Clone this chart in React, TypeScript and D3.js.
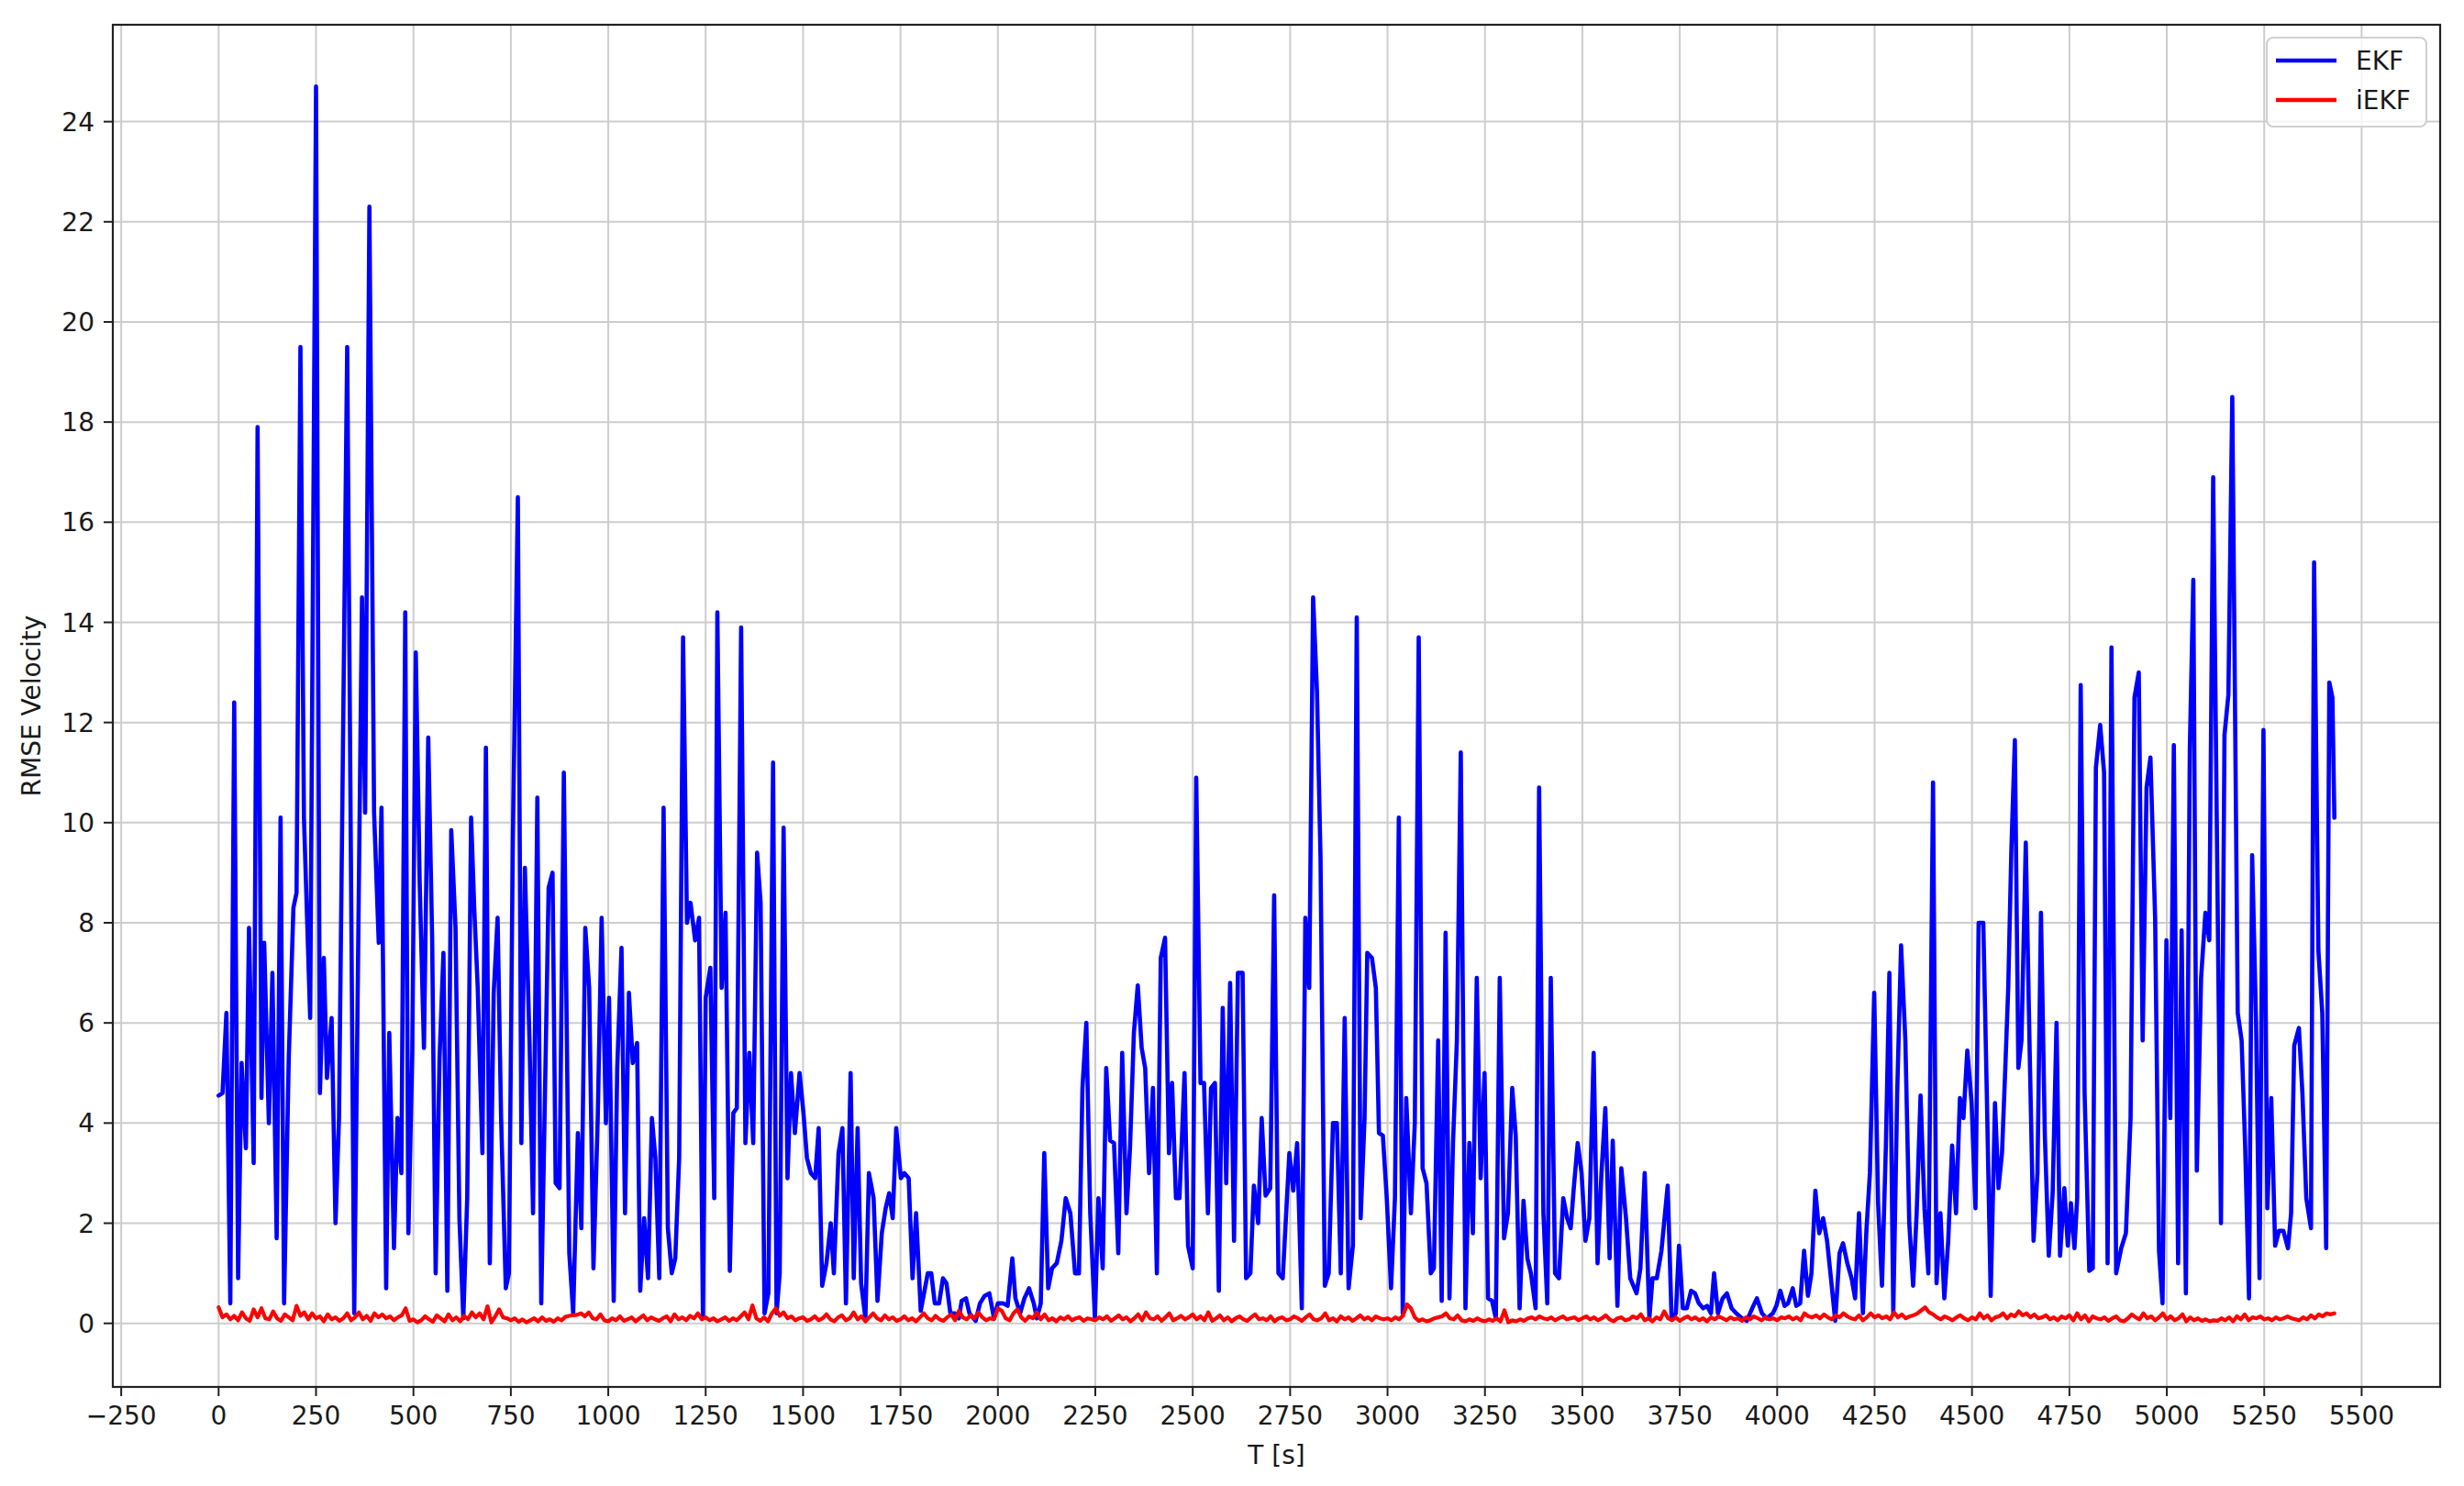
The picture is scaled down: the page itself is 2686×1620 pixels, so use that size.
import React from "react";
import * as d3 from "d3";

// ---- Data ----
const xTicks = [-250, 0, 250, 500, 750, 1000, 1250, 1500, 1750, 2000, 2250, 2500, 2750, 3000, 3250, 3500, 3750, 4000, 4250, 4500, 4750, 5000, 5250, 5500];
const yTicks = [0, 2, 4, 6, 8, 10, 12, 14, 16, 18, 20, 22, 24];
const seriesNames = ["EKF", "iEKF"];
const seriesColors = ["#0000ff", "#ff0000"];

// EKF: [time s, RMSE]
const ekfSeg1: [number, number][] = [[0,4.55],[10,4.6],[20,6.2],[30,0.4],[40,12.4],[50,0.9],[59,5.2],[70,3.5],[78,7.9],[90,3.2],[100,17.9],[110,4.5],[117,7.6],[129,4.0],[138,7.0],[149,1.7],[159,10.1],[168,0.4],[180,5.3],[192,8.3],[200,8.6],[210,19.5],[219,10.1],[235,6.1],[250,24.7],[260,4.6],[270,7.3],[278,4.9],[290,6.1],[300,2.0],[309,4.1],[330,19.5],[348,0.2],[368,14.5],[376,10.2],[387,22.3],[399,10.2],[411,7.6],[418,10.3],[430,0.7],[438,5.8],[450,1.5],[459,4.1],[469,3.0],[479,14.2],[487,1.8],[497,5.4],[506,13.4],[516,8.8],[527,5.5],[538,11.7],[548,7.7],[557,1.0],[567,5.3],[577,7.4],[587,0.65],[597,9.85],[608,7.9],[618,2.1],[628,0.1],[638,2.5],[648,10.1],[656,8.3],[665,6.7],[677,3.4],[686,11.5],[696,1.2],[706,6.6],[716,8.1],[725,4.1],[737,0.7],[745,1.0],[755,9.6],[768,16.5],[777,3.6],[786,9.1],[798,5.6],[807,2.2],[818,10.5],[828,0.4],[847,8.7],[857,9.0],[865,2.8],[875,2.7],[886,11.0]];
const ekfSeg2: [number, number][] = [[900,1.4],[910,0.2],[922,3.8],[931,1.9],[941,7.9],[951,6.7],[962,1.1],[973,4.1],[983,8.1],[994,4.0],[1002,6.5],[1014,0.45],[1023,5.1],[1034,7.5],[1043,2.2],[1053,6.6],[1063,5.2],[1074,5.6],[1082,0.65],[1092,2.1],[1102,0.9],[1112,4.1],[1121,3.3],[1131,0.9],[1142,10.3],[1153,1.9],[1163,1.0],[1172,1.3],[1182,3.3],[1192,13.7],[1202,8.0],[1211,8.4],[1223,7.65],[1233,8.1],[1243,0.1],[1250,6.5],[1262,7.1],[1272,2.5],[1280,14.2],[1291,6.7],[1301,8.2],[1312,1.05],[1321,4.2],[1330,4.3],[1341,13.9],[1352,3.6],[1362,5.4],[1372,3.6],[1382,9.4],[1391,8.4],[1401,0.2],[1411,0.6],[1423,11.2],[1432,0.2],[1440,1.0],[1450,9.9],[1460,2.9],[1469,5.0],[1479,3.8],[1491,5.0],[1501,4.2],[1510,3.3],[1520,3.0],[1531,2.9],[1540,3.9],[1549,0.75],[1560,1.2],[1571,2.0],[1579,1.0],[1591,3.4],[1601,3.9],[1610,0.4],[1622,5.0],[1630,0.9],[1640,3.9],[1649,0.8],[1660,0.1],[1669,3.0],[1681,2.5],[1691,0.45],[1702,1.8],[1712,2.3],[1721,2.6],[1730,2.1],[1739,3.9],[1751,2.9],[1760,3.0],[1771,2.9],[1781,0.9],[1790,2.2],[1802,0.25]];
const ekfSeg3: [number, number][] = [[1820,1.0],[1829,1.0],[1838,0.4],[1849,0.4],[1859,0.9],[1868,0.8],[1878,0.2],[1890,0.2],[1900,0.1],[1907,0.45],[1918,0.5],[1927,0.2],[1943,0.05],[1954,0.4],[1966,0.55],[1978,0.6],[1990,0.1],[2000,0.4],[2013,0.4],[2025,0.35],[2037,1.3],[2045,0.5],[2057,0.2],[2068,0.5],[2080,0.7],[2092,0.4],[2100,0.1],[2110,0.4],[2119,3.4],[2129,0.7],[2139,1.1],[2151,1.2],[2163,1.65],[2174,2.5],[2186,2.2],[2198,1.0],[2208,1.0],[2217,4.7],[2227,6.0],[2237,2.2],[2249,0.1],[2258,2.5],[2269,1.1],[2278,5.1],[2288,3.65],[2298,3.6],[2309,1.4],[2319,5.4],[2330,2.2],[2339,3.5],[2349,5.8],[2359,6.75],[2369,5.5],[2378,5.1],[2388,3.0],[2398,4.7],[2408,1.0],[2418,7.3],[2429,7.7],[2439,3.4],[2447,4.8],[2457,2.5],[2466,2.5],[2479,5.0],[2488,1.55],[2500,1.1],[2509,10.9],[2520,4.8],[2529,4.8],[2539,2.2],[2547,4.7],[2557,4.8],[2567,0.65],[2577,6.3],[2586,2.8],[2596,6.8],[2606,1.65],[2616,7.0],[2628,7.0],[2637,0.9],[2648,1.0],[2657,2.75],[2668,2.0],[2677,4.1],[2687,2.55],[2699,2.7],[2709,8.55],[2720,1.0]];
const ekfSeg4: [number, number][] = [[2731,0.9],[2748,3.4],[2758,2.65],[2768,3.6],[2780,0.3],[2789,8.1],[2799,6.7],[2809,14.5],[2819,12.6],[2828,9.3],[2839,0.75],[2849,1.0],[2860,4.0],[2870,4.0],[2880,1.0],[2890,6.1],[2900,0.7],[2911,1.55],[2921,14.1],[2931,2.1],[2941,4.1],[2948,7.4],[2960,7.3],[2970,6.7],[2978,3.8],[2988,3.75],[2998,2.5],[3009,0.7],[3019,2.5],[3029,10.1],[3039,0.2],[3048,4.5],[3060,2.2],[3070,4.0],[3080,13.7],[3090,3.1],[3100,2.8],[3111,1.0],[3119,1.1],[3130,5.65],[3139,0.45],[3149,7.8],[3159,0.5],[3168,3.6],[3178,5.65],[3188,11.4],[3200,0.3],[3210,3.6],[3219,1.8],[3229,6.9],[3239,2.9],[3249,5.0],[3258,0.5],[3268,0.45],[3278,0.1],[3288,6.9],[3299,1.7],[3309,2.2],[3320,4.7],[3329,3.75],[3339,0.3],[3349,2.45],[3359,1.3],[3368,1.0],[3380,0.3],[3389,10.7],[3400,2.2],[3410,0.4],[3419,6.9],[3430,1.0],[3440,0.9],[3451,2.5],[3461,2.1],[3470,1.9],[3478,2.7],[3488,3.6],[3498,3.0],[3508,1.65],[3518,2.1],[3529,5.4],[3539,1.2],[3549,3.0],[3559,4.3],[3570,1.3],[3578,3.65],[3590,0.35],[3600,3.1],[3612,2.1],[3623,0.9]];
const ekfSeg5: [number, number][] = [[3639,0.6],[3649,1.1],[3660,3.0],[3672,0.1],[3680,0.9],[3691,0.9],[3703,1.45],[3719,2.75],[3729,0.1],[3740,0.2],[3748,1.55],[3758,0.3],[3768,0.3],[3779,0.65],[3789,0.6],[3799,0.4],[3810,0.3],[3820,0.35],[3830,0.2],[3838,1.0],[3848,0.2],[3860,0.5],[3871,0.6],[3883,0.3],[3895,0.2],[3910,0.1],[3922,0.05],[3936,0.3],[3948,0.5],[3961,0.2],[3973,0.1],[3989,0.2],[3998,0.35],[4008,0.65],[4019,0.35],[4028,0.4],[4040,0.7],[4049,0.35],[4059,0.4],[4069,1.45],[4079,0.55],[4088,1.0],[4098,2.65],[4108,1.8],[4118,2.1],[4128,1.65],[4138,0.9],[4149,0.05],[4160,1.4],[4169,1.6],[4180,1.2],[4191,0.9],[4200,0.5],[4210,2.2],[4220,0.2],[4229,1.85],[4238,3.0],[4249,6.6],[4259,2.4],[4269,0.75],[4279,3.55],[4288,7.0],[4298,0.2],[4308,4.6],[4318,7.55],[4329,5.65],[4339,2.0],[4349,0.75],[4358,2.2],[4368,4.55],[4378,2.3],[4388,1.0],[4400,10.8],[4409,0.8],[4419,2.2],[4429,0.5],[4439,1.65],[4449,3.55],[4459,2.2],[4469,4.5],[4478,4.1],[4488,5.45],[4499,4.4],[4509,2.3],[4517,8.0],[4529,8.0],[4538,4.6],[4548,0.55],[4559,4.4],[4568,2.7]];
const ekfSeg6: [number, number][] = [[4577,3.4],[4585,5.0],[4593,6.7],[4601,9.45],[4610,11.65],[4619,5.1],[4627,5.65],[4638,9.6],[4648,5.45],[4658,1.65],[4668,3.0],[4677,8.2],[4687,3.75],[4697,1.35],[4707,2.6],[4717,6.0],[4726,1.35],[4737,2.7],[4746,1.55],[4754,2.4],[4763,1.5],[4770,2.5],[4779,12.75],[4789,4.6],[4801,1.05],[4810,1.1],[4818,11.1],[4829,11.95],[4839,11.0],[4848,1.2],[4858,13.5],[4870,1.0],[4883,1.5],[4895,1.8],[4907,4.1],[4917,12.5],[4928,13.0],[4938,5.65],[4948,10.7],[4958,11.3],[4970,8.1],[4980,1.45],[4989,0.4],[4999,7.65],[5009,4.1],[5018,11.55],[5029,1.2],[5038,7.85],[5049,0.6],[5059,11.45],[5068,14.85],[5077,3.05],[5088,6.9],[5099,8.2],[5109,7.65],[5119,16.9],[5139,2.0],[5148,11.75],[5158,12.55],[5168,18.5],[5182,6.2],[5192,5.65],[5201,3.55],[5211,0.5],[5219,9.35],[5229,6.05],[5238,0.9],[5248,11.85],[5258,2.3],[5268,4.5],[5278,1.55],[5288,1.85],[5299,1.85],[5311,1.5],[5319,2.2],[5327,5.55],[5339,5.9],[5348,4.6],[5358,2.5],[5370,1.9],[5378,15.2],[5389,7.45],[5399,6.2],[5409,1.5],[5417,12.8],[5425,12.5],[5430,10.1]];

// iEKF: one value every 10 s, starting at t = 0
const iekfStep = 10;
const iekfValues: number[] = [
  0.32,0.12,0.18,0.08,0.15,0.06,0.22,0.1,0.05,0.28,0.12,0.3,0.1,0.08,0.24,0.1,0.05,0.18,0.12,0.06,0.35,0.15,0.22,0.08,0.2,
  0.1,0.14,0.04,0.18,0.08,0.12,0.05,0.1,0.2,0.06,0.12,0.22,0.08,0.15,0.05,0.2,0.12,0.18,0.1,0.14,0.06,0.12,0.16,0.3,0.05,
  0.08,0.02,0.06,0.14,0.08,0.03,0.16,0.1,0.04,0.18,0.06,0.12,0.04,0.15,0.08,0.22,0.12,0.2,0.08,0.34,0.02,0.14,0.28,0.12,0.1,
  0.06,0.1,0.03,0.08,0.02,0.06,0.1,0.04,0.12,0.05,0.08,0.03,0.1,0.06,0.13,0.15,0.16,0.17,0.2,0.14,0.22,0.1,0.08,0.18,0.06,
  0.04,0.1,0.06,0.14,0.05,0.08,0.12,0.04,0.1,0.16,0.06,0.12,0.08,0.05,0.1,0.14,0.04,0.18,0.08,0.12,0.06,0.15,0.1,0.2,0.08,
  0.12,0.06,0.1,0.04,0.08,0.12,0.05,0.1,0.06,0.14,0.22,0.08,0.36,0.1,0.05,0.12,0.04,0.2,0.3,0.15,0.22,0.1,0.14,0.06,0.1,
  0.12,0.05,0.08,0.14,0.06,0.1,0.18,0.08,0.04,0.12,0.16,0.06,0.1,0.22,0.08,0.14,0.04,0.12,0.2,0.1,0.06,0.16,0.08,0.12,0.05,
  0.08,0.14,0.06,0.1,0.04,0.12,0.2,0.1,0.06,0.15,0.08,0.05,0.12,0.18,0.06,0.25,0.12,0.08,0.16,0.1,0.22,0.12,0.06,0.1,0.08,
  0.3,0.25,0.1,0.06,0.2,0.28,0.12,0.05,0.14,0.1,0.22,0.08,0.18,0.06,0.1,0.04,0.12,0.08,0.14,0.06,0.1,0.12,0.05,0.1,0.08,
  0.06,0.12,0.08,0.14,0.05,0.1,0.16,0.08,0.12,0.04,0.1,0.18,0.06,0.22,0.1,0.08,0.14,0.05,0.12,0.2,0.06,0.1,0.15,0.08,0.12,
  0.18,0.08,0.14,0.06,0.22,0.05,0.1,0.16,0.06,0.12,0.04,0.1,0.14,0.08,0.05,0.12,0.18,0.08,0.1,0.06,0.14,0.04,0.1,0.12,0.06,
  0.08,0.14,0.1,0.05,0.12,0.18,0.08,0.06,0.1,0.2,0.06,0.1,0.04,0.14,0.08,0.12,0.05,0.1,0.16,0.08,0.12,0.06,0.14,0.1,0.08,
  0.1,0.06,0.12,0.08,0.16,0.38,0.3,0.12,0.05,0.08,0.04,0.06,0.1,0.12,0.14,0.2,0.1,0.08,0.16,0.06,0.04,0.08,0.05,0.1,0.06,
  0.04,0.08,0.05,0.1,0.04,0.26,0.02,0.06,0.04,0.08,0.05,0.1,0.12,0.08,0.14,0.1,0.08,0.12,0.06,0.1,0.14,0.08,0.1,0.12,0.06,
  0.1,0.14,0.08,0.12,0.06,0.1,0.16,0.08,0.04,0.1,0.12,0.06,0.08,0.14,0.1,0.18,0.06,0.1,0.04,0.12,0.08,0.24,0.1,0.06,0.12,
  0.05,0.1,0.14,0.08,0.12,0.06,0.1,0.04,0.12,0.08,0.14,0.1,0.06,0.12,0.08,0.1,0.05,0.12,0.08,0.14,0.1,0.06,0.12,0.08,0.1,
  0.06,0.12,0.1,0.14,0.08,0.12,0.06,0.2,0.14,0.12,0.16,0.1,0.18,0.12,0.08,0.16,0.12,0.2,0.14,0.1,0.08,0.16,0.06,0.12,0.2,
  0.12,0.16,0.1,0.14,0.08,0.22,0.12,0.18,0.1,0.14,0.16,0.2,0.26,0.32,0.22,0.18,0.12,0.08,0.14,0.1,0.06,0.12,0.16,0.1,0.06,
  0.12,0.08,0.2,0.1,0.16,0.06,0.12,0.14,0.2,0.1,0.18,0.14,0.24,0.16,0.2,0.12,0.18,0.1,0.12,0.16,0.08,0.12,0.06,0.14,0.1,
  0.16,0.06,0.2,0.08,0.16,0.04,0.14,0.1,0.08,0.12,0.05,0.1,0.14,0.06,0.04,0.1,0.18,0.12,0.08,0.2,0.1,0.14,0.06,0.12,0.2,
  0.08,0.14,0.06,0.1,0.18,0.04,0.12,0.06,0.1,0.05,0.08,0.04,0.06,0.05,0.1,0.06,0.12,0.04,0.14,0.08,0.18,0.06,0.12,0.1,0.14,
  0.08,0.1,0.06,0.12,0.08,0.1,0.14,0.1,0.08,0.06,0.12,0.08,0.16,0.1,0.18,0.14,0.2,0.18,0.2,
];

const W = 2686;
const H = 1620;
const M = { left: 123, right: 2660, top: 27, bottom: 1512 };
const FONT = "'DejaVu Sans', sans-serif";
const TEXT = "#1a1a1a";

export default function App() {
  React.useEffect(() => {
    document.body.style.margin = "0";
  }, []);

  const ekf = [...ekfSeg1, ...ekfSeg2, ...ekfSeg3, ...ekfSeg4, ...ekfSeg5, ...ekfSeg6];
  const iekf: [number, number][] = iekfValues.map((v, i) => [i * iekfStep, v]);

  const allT = [...ekf.map((d) => d[0]), ...iekf.map((d) => d[0])];
  const allV = [...ekf.map((d) => d[1]), ...iekf.map((d) => d[1])];
  const [tMin, tMax] = d3.extent(allT) as [number, number];
  const tPad = (tMax - tMin) * 0.05;
  const x = d3.scaleLinear().domain([tMin - tPad, tMax + tPad]).range([M.left, M.right]);
  const vMax = d3.max(allV) as number;
  const y = d3.scaleLinear().domain([-1.27, vMax * 1.05]).range([M.bottom, M.top]);

  const line = d3
    .line<[number, number]>()
    .x((d) => x(d[0]))
    .y((d) => y(d[1]));

  const fmt = (v: number) => (v < 0 ? "\u2212" + Math.abs(v) : String(v));

  return (
    <div style={{ position: "absolute", left: 0, top: 0, width: W, height: H, background: "#fff" }}>
      <svg width={W} height={H} viewBox={`0 0 ${W} ${H}`} style={{ display: "block" }}>
        <rect x={0} y={0} width={W} height={H} fill="#ffffff" />
        <defs>
          <clipPath id="plotclip">
            <rect x={M.left} y={M.top} width={M.right - M.left} height={M.bottom - M.top} />
          </clipPath>
        </defs>
        {/* grid */}
        <g stroke="#cdcdcd" strokeWidth={2}>
          {xTicks.map((t) => (
            <line key={"gx" + t} x1={x(t)} x2={x(t)} y1={M.top} y2={M.bottom} />
          ))}
          {yTicks.map((t) => (
            <line key={"gy" + t} x1={M.left} x2={M.right} y1={y(t)} y2={y(t)} />
          ))}
        </g>
        {/* series */}
        <g clipPath="url(#plotclip)" fill="none" strokeLinejoin="round" strokeLinecap="round">
          <path d={line(ekf) || ""} stroke={seriesColors[0]} strokeWidth={4.6} />
          <path d={line(iekf) || ""} stroke={seriesColors[1]} strokeWidth={4.2} />
        </g>
        {/* spines */}
        <rect
          x={M.left}
          y={M.top}
          width={M.right - M.left}
          height={M.bottom - M.top}
          fill="none"
          stroke="#222"
          strokeWidth={2.2}
        />
        {/* x ticks */}
        <g>
          {xTicks.map((t) => (
            <g key={"xt" + t}>
              <line x1={x(t)} x2={x(t)} y1={M.bottom} y2={M.bottom + 10} stroke="#222" strokeWidth={2} />
              <text
                x={x(t)}
                y={M.bottom + 41}
                textAnchor="middle"
                fontFamily={FONT}
                fontSize={28}
                fill={TEXT}
              >
                {fmt(t)}
              </text>
            </g>
          ))}
        </g>
        {/* y ticks */}
        <g>
          {yTicks.map((t) => (
            <g key={"yt" + t}>
              <line x1={M.left - 10} x2={M.left} y1={y(t)} y2={y(t)} stroke="#222" strokeWidth={2} />
              <text
                x={M.left - 20}
                y={y(t)}
                dy="0.36em"
                textAnchor="end"
                fontFamily={FONT}
                fontSize={28}
                fill={TEXT}
              >
                {fmt(t)}
              </text>
            </g>
          ))}
        </g>
        {/* axis labels */}
        <text
          x={(M.left + M.right) / 2}
          y={1596}
          textAnchor="middle"
          fontFamily={FONT}
          fontSize={28}
          fill={TEXT}
        >
          T [s]
        </text>
        <text
          transform={`translate(44, ${(M.top + M.bottom) / 2}) rotate(-90)`}
          textAnchor="middle"
          fontFamily={FONT}
          fontSize={28}
          fill={TEXT}
        >
          RMSE Velocity
        </text>
        {/* legend */}
        <g>
          <rect x={2471} y={41} width={174} height={97} rx={7} fill="#ffffff" fillOpacity={0.8} stroke="#d0d0d0" strokeWidth={2} />
          {seriesNames.map((name, i) => (
            <g key={name}>
              <line
                x1={2481}
                x2={2547}
                y1={66 + i * 43}
                y2={66 + i * 43}
                stroke={seriesColors[i]}
                strokeWidth={4.4}
              />
              <text x={2568} y={66 + i * 43} dy="0.36em" fontFamily={FONT} fontSize={28} fill={TEXT}>
                {name}
              </text>
            </g>
          ))}
        </g>
      </svg>
    </div>
  );
}
